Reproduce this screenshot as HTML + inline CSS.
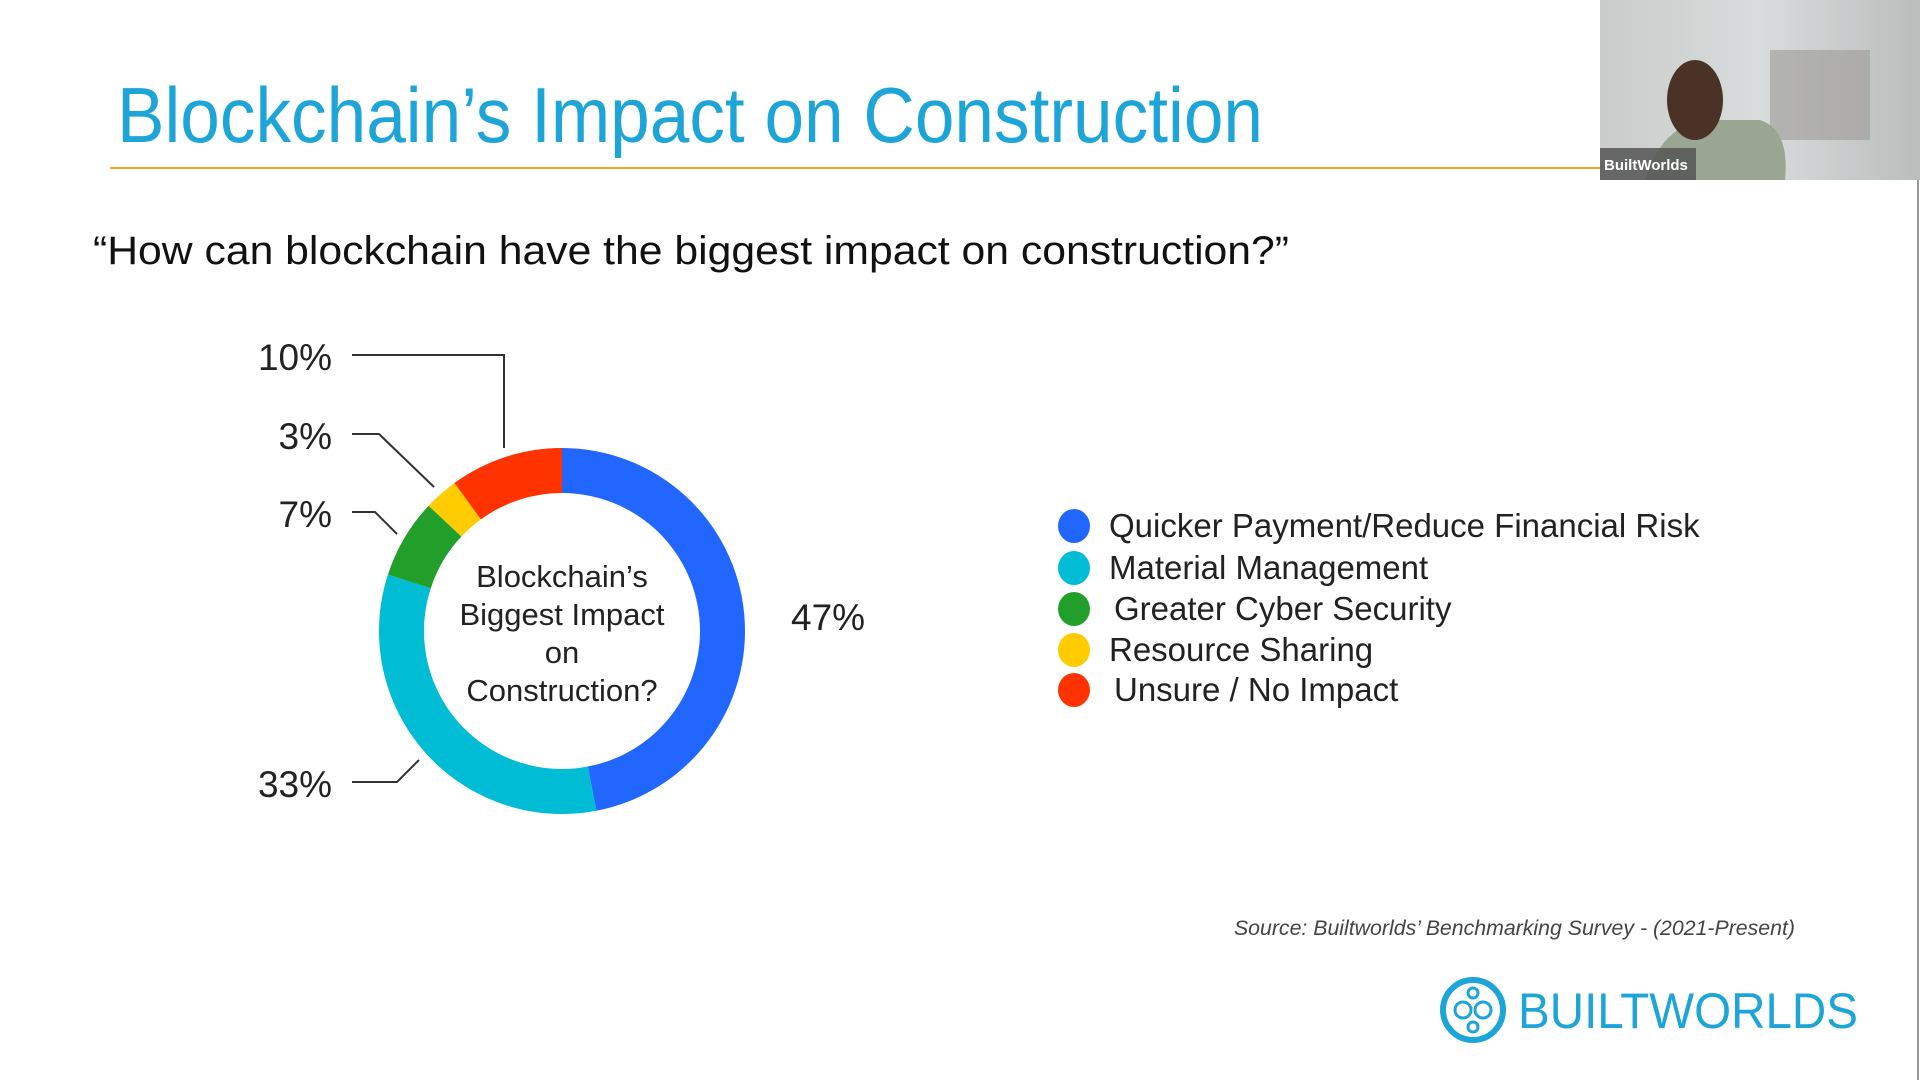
<!DOCTYPE html>
<html><head><meta charset="utf-8"><style>
html,body{margin:0;padding:0;background:#fff;}
body{width:1920px;height:1080px;overflow:hidden;position:relative;font-family:"Liberation Sans",sans-serif;}
</style></head><body>
<svg width="1920" height="1080" viewBox="0 0 1920 1080" xmlns="http://www.w3.org/2000/svg">
  <text x="117" y="142" font-size="78" fill="#1ea5d8" font-family="Liberation Sans, sans-serif" textLength="1146" lengthAdjust="spacingAndGlyphs">Blockchain’s Impact on Construction</text>
  <line x1="110" y1="168" x2="1600" y2="168" stroke="#f0a92a" stroke-width="2"/>
  <text x="93" y="264" font-size="40" fill="#111" textLength="1196" lengthAdjust="spacingAndGlyphs">“How can blockchain have the biggest impact on construction?”</text>

  <g id="donut"></g>
  <g id="labels"></g>
  <g font-size="31" fill="#222" text-anchor="middle">
    <text x="562" y="587">Blockchain’s</text>
    <text x="562" y="625">Biggest Impact</text>
    <text x="562" y="663">on</text>
    <text x="562" y="701">Construction?</text>
  </g>
  <g id="legend"></g>

  <text x="1795" y="935" font-size="21.3" font-style="italic" fill="#444" text-anchor="end">Source: Builtworlds’ Benchmarking Survey - (2021-Present)</text>

  <g>
    <circle cx="1473" cy="1010" r="30" fill="none" stroke="#1ea5d8" stroke-width="6"/>
    <circle cx="1473" cy="993" r="5" fill="none" stroke="#1ea5d8" stroke-width="3"/>
    <circle cx="1473" cy="1027" r="5" fill="none" stroke="#1ea5d8" stroke-width="3"/>
    <circle cx="1463" cy="1010" r="8" fill="none" stroke="#1ea5d8" stroke-width="3"/>
    <circle cx="1483" cy="1010" r="8" fill="none" stroke="#1ea5d8" stroke-width="3"/>
    <text x="1518" y="1028" font-size="50" fill="#1ea5d8" textLength="340" lengthAdjust="spacingAndGlyphs">BUILTWORLDS</text>
  </g>

  <g>
    <defs><linearGradient id="bg" x1="0" y1="0" x2="1" y2="0"><stop offset="0" stop-color="#c9ccca"/><stop offset="0.5" stop-color="#d8dcdc"/><stop offset="1" stop-color="#b9bdbc"/></linearGradient></defs>
    <rect x="1600" y="0" width="320" height="180" fill="url(#bg)"/>
    <rect x="1770" y="50" width="100" height="90" fill="#9c9a98" opacity="0.6"/>
    <path d="M1645 180 Q1660 130 1700 120 L1760 120 Q1790 130 1785 180 Z" fill="#9aa592"/>
    <ellipse cx="1695" cy="100" rx="28" ry="40" fill="#4a3227"/>
    <rect x="1600" y="148" width="96" height="32" fill="#555" opacity="0.85"/>
    <text x="1604" y="170" font-size="15" font-weight="bold" fill="#fff">BuiltWorlds</text>
  </g>
  <line x1="1918" y1="180" x2="1918" y2="1080" stroke="#999" stroke-width="2"/>
</svg>
<script>
const categories=["Quicker Payment/Reduce Financial Risk","Material Management","Greater Cyber Security","Resource Sharing","Unsure / No Impact"];
const values=[47,33,7,3,10];
const colors=["#2166ff","#00bcd4","#229e2a","#ffcc00","#ff3300"];
const valueLabels=["47%","33%","7%","3%","10%"];
const NS="http://www.w3.org/2000/svg";
const cx=562,cy=631,R=183,r=138;
const total=values.reduce((a,b)=>a+b,0);
function pt(frac,rad){const a=frac*2*Math.PI-Math.PI/2;return [cx+rad*Math.cos(a),cy+rad*Math.sin(a)];}
const donut=document.getElementById('donut');
let acc=0;
values.forEach((v,i)=>{
  const f0=acc/total, f1=(acc+v)/total; acc+=v;
  const large=(f1-f0)>0.5?1:0;
  const [x0,y0]=pt(f0,R),[x1,y1]=pt(f1,R),[x2,y2]=pt(f1,r),[x3,y3]=pt(f0,r);
  const p=document.createElementNS(NS,'path');
  p.setAttribute('d',`M${x0} ${y0} A${R} ${R} 0 ${large} 1 ${x1} ${y1} L${x2} ${y2} A${r} ${r} 0 ${large} 0 ${x3} ${y3} Z`);
  p.setAttribute('fill',colors[i]);
  
  
  donut.appendChild(p);
});
const labels=document.getElementById('labels');
const labelPos=[[791,630,'start',null],[332,797,'end',[[352,782],[397,782],[419,760]]],[332,527,'end',[[352,512],[375,512],[397,534]]],[332,449,'end',[[352,434],[379,434],[434,487]]],[332,370,'end',[[352,355],[504,355],[504,448]]]];
labelPos.forEach((lp,i)=>{
  const t=document.createElementNS(NS,'text');
  t.setAttribute('x',lp[0]);t.setAttribute('y',lp[1]);
  t.setAttribute('text-anchor',lp[2]);
  t.setAttribute('font-size','37');t.setAttribute('fill','#222');
  t.textContent=valueLabels[i];
  
  
  labels.appendChild(t);
  if(lp[3]){
    const pl=document.createElementNS(NS,'polyline');
    pl.setAttribute('points',lp[3].map(p=>p.join(',')).join(' '));
    pl.setAttribute('fill','none');pl.setAttribute('stroke','#333');pl.setAttribute('stroke-width','2');
    
    
    labels.appendChild(pl);
  }
});
const legend=document.getElementById('legend');
const legY=[526,568,609,650,690];
const legX=[1109,1109,1114,1109,1114];
categories.forEach((c,i)=>{
  const d=document.createElementNS(NS,'ellipse');
  d.setAttribute('cx',1074);d.setAttribute('cy',legY[i]);d.setAttribute('rx',16);d.setAttribute('ry',17);
  d.setAttribute('fill',colors[i]);
  
  
  legend.appendChild(d);
  const t=document.createElementNS(NS,'text');
  t.setAttribute('x',legX[i]);t.setAttribute('y',legY[i]+11);
  t.setAttribute('font-size','33');t.setAttribute('fill','#222');
  t.textContent=c;
  
  
  legend.appendChild(t);
});
</script>
</body></html>
